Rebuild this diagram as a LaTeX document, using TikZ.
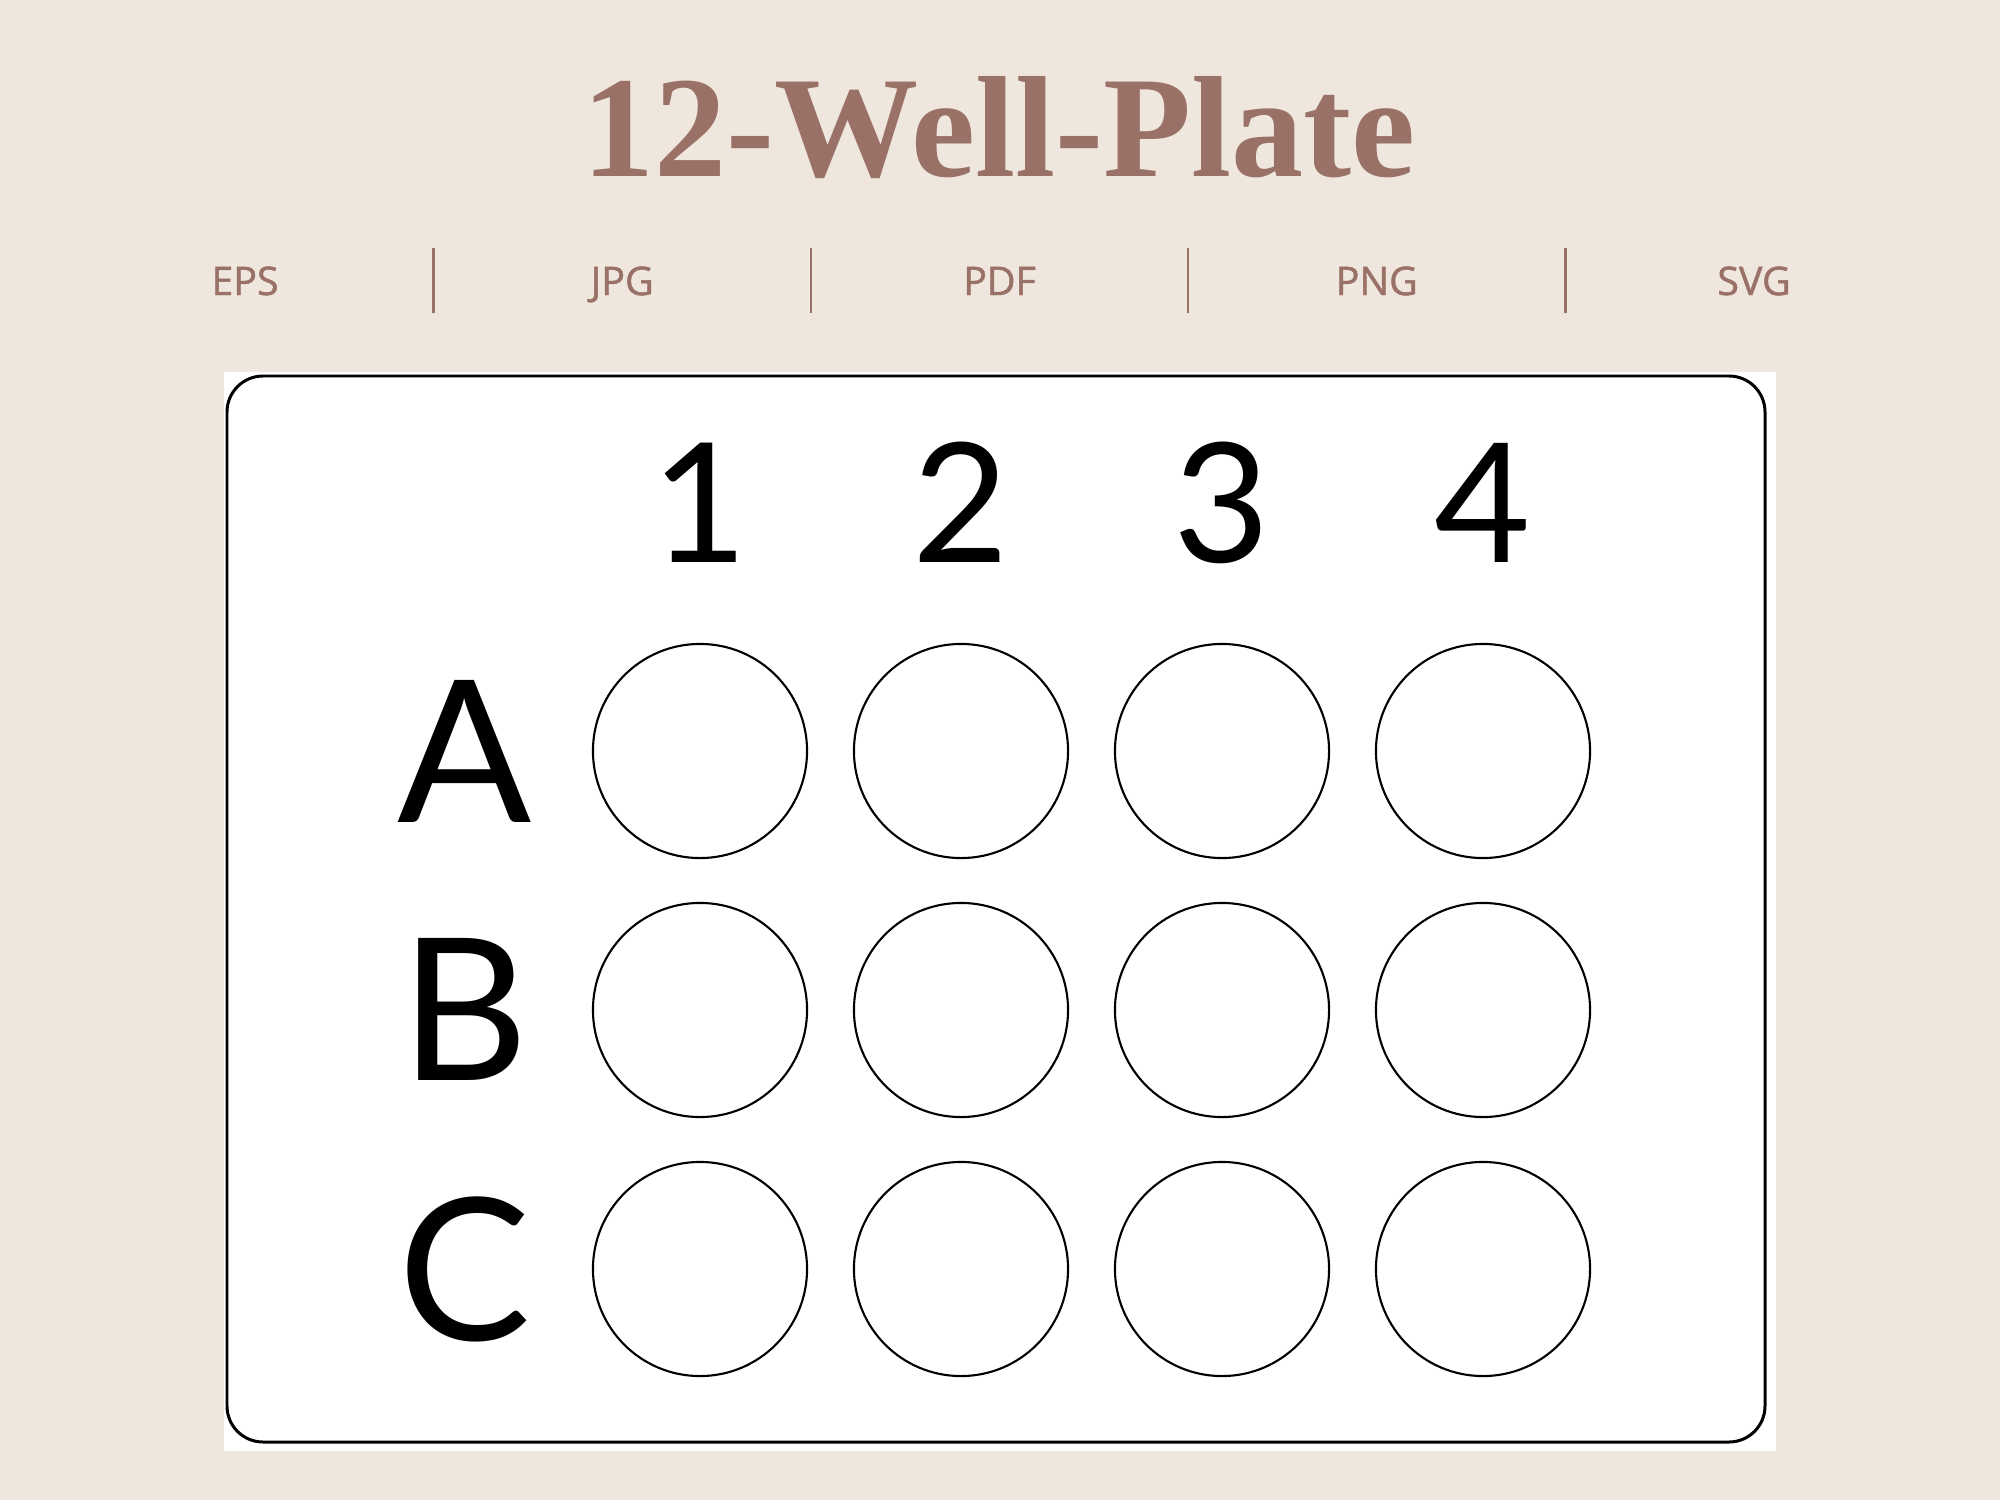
\documentclass[tikz,border=0pt]{standalone}
\usepackage{fontspec}
\setmainfont{Lato}
\newfontfamily\titlefont{Liberation Serif}
\newfontfamily\tagfont[FakeBold=1.2]{Open Sans}
\definecolor{paper}{HTML}{EFE6DE}
\definecolor{cocoa}{HTML}{9A7166}

\begin{document}
\begin{tikzpicture}[x=0.01cm, y=-0.01cm, every node/.style={inner sep=0pt},
		well/.style={circle, draw=black, line width=0.6pt, minimum size=2.14cm},
		filetag/.style={font=\tagfont\fontsize{11.2}{13}\selectfont, text=cocoa, anchor=base},
		colnum/.style={font=\fontsize{47.3}{50}\selectfont, anchor=base},
		rowlet/.style={font=\fontsize{56.4}{60}\selectfont, anchor=base}]
		
		% Background and page size
		\fill[paper] (0,0) rectangle (2000,1500);
		\useasboundingbox (0,0) rectangle (2000,1500);
		
		% Title
		\node[font=\titlefont\bfseries\fontsize{41}{45}\selectfont, text=cocoa, anchor=base] (title) at (999,177) {12-Well-Plate};
		
		% File formats with separators
		\foreach \t [count=\i] in {EPS,JPG,PDF,PNG,SVG}
		\node[filetag] (tag\i) at ({245+377.25*(\i-1)},295) {\t};
		\foreach \i in {1,...,4}
		\draw[cocoa, line width=0.7pt] ({433.6+377.25*(\i-1)},248) -- ({433.6+377.25*(\i-1)},313);
		
		% Plate
		\fill[white] (224,372) rectangle (1776,1451);
		\draw[line width=0.85pt, rounded corners=0.36cm] (227,376) rectangle (1765,1442);
		
		% Column numbers
		\foreach \c in {1,...,4}
		\node[colnum] (col\c) at ({700+261*(\c-1)},562) {\c};
		
		% Row letters and wells
		\foreach \r/\base [count=\j] in {A/822,B/1080,C/1340} {
			\node[rowlet] (row\r) at (465,\base) {\r};
			\foreach \c in {1,...,4}
			\node[well] (well\r\c) at ({700+261*(\c-1)},{751+259*(\j-1)}) {};
		}
		
\end{tikzpicture}
\end{document}
